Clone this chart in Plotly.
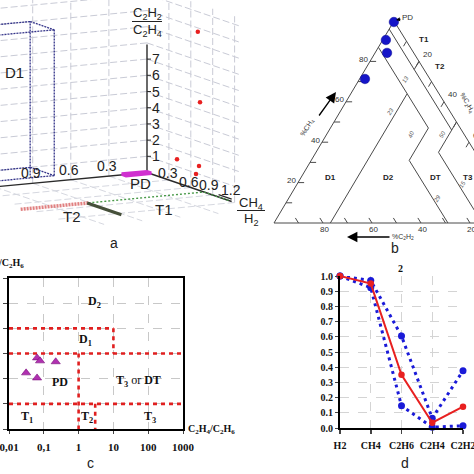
import plotly.graph_objects as go

FIG = 474
SANS = "Liberation Sans, Arial, sans-serif"
SERIF = "Liberation Serif, Times New Roman, serif"

# ======================= DATA =======================
# ---- panel a : 3-D Rogers ratio plot (C2H4/C2H6, CH4/H2, C2H2/C2H4)
a_c2h4_c2h6 = [0.10, 0.10, 0.10, 0.10, 0.10]
a_ch4_h2 = [0.87, 0.90, 0.585, 0.886, 0.845]
a_c2h2_c2h4 = [10.1, 5.8, 1.8, 1.85, 1.28]
a_left_ticks = [0.3, 0.6, 0.9]
a_right_ticks = [0.3, 0.6, 0.9, 1.2]
a_z_ticks = [1, 2, 3, 4, 5, 6, 7]
a_grid_vals = [0.3, 0.6, 0.9, 1.2]
a_grid_z = [1, 2, 3, 4, 5, 6, 7, 8, 9, 10, 11]
a_d1_box = {"a": (0.92, 2.0), "b": (0.0, 0.33), "z": (1.0, 10.0)}
a_pd_box = {"a": (0.0, 0.2), "b": (0.0, 0.06), "z": (0.0, 0.1)}
a_t2_a, a_t2_b = [0.91, 1.45], [0.78, 0.78]
a_t1_a, a_t1_b = [0.91, 0.0, 0.0], [0.78, 0.78, 1.12]
a_t1e_a, a_t1e_b = [0.92, 0.92], [0.78, 1.25]

# ---- panel b : Duval triangle (%CH4, %C2H4, %C2H2)
b_ch4 = [99.5, 90.6, 84.2, 71.3]
b_c2h4 = [0.2, 1.3, 4.9, 2.2]
b_c2h2 = [0.3, 8.1, 10.9, 26.5]
b_zone_lines = [
    [(98, 0, 2), (98, 2, 0)],
    [(96, 0, 4), (46, 50, 4)],
    [(80, 20, 0), (76, 20, 4)],
    [(50, 50, 0), (46, 50, 4)],
    [(46, 50, 4), (35, 50, 15), (0, 85, 15)],
    [(87, 0, 13), (64, 23, 13)],
    [(64, 23, 13), (0, 23, 77)],
    [(64, 23, 13), (47, 40, 13), (31, 40, 29), (0, 71, 29)],
]
b_axis_labels = [20, 40, 60, 80]

# ---- panel c : log-log ratio chart
c_c2h4_c2h6 = [0.064, 0.078, 0.22, 0.031, 0.064]
c_c2h2_c2h6 = [0.67, 0.51, 0.47, 0.17, 0.107]
c_xticks = [0.01, 0.1, 1, 10, 100, 1000]
c_xticktext = ["0,01", "0,1", "1", "10", "100", "1000"]
c_yticks = [0.001, 0.01, 0.1, 1, 10, 100, 1000]
c_bounds = [
    ([0.01, 10], [10, 10]),
    ([10, 10], [10, 1]),
    ([0.01, 1000], [1, 1]),
    ([1, 1], [1, 0.001]),
    ([0.01, 1000], [0.01, 0.01]),
    ([3, 3], [0.01, 0.001]),
]

# ---- panel d : normalised gas profile
d_gases = ["H2", "CH4", "C2H6", "C2H4", "C2H2"]
d_red = [1.0, 0.95, 0.35, 0.035, 0.14]
d_blue_1 = [1.0, 0.97, 0.605, 0.064, 0.377]
d_blue_2 = [1.0, 0.923, 0.146, 0.005, 0.015]

# ======================= HELPERS =======================
def paper(x, y):
    return x / FIG, 1 - y / FIG

annotations = []
shapes = []


def text(x, y, s, size=12, family=SANS, color="#222", angle=0, xanchor="center",
         weight="normal", style="normal"):
    px, py = paper(x, y)
    annotations.append(dict(x=px, y=py, xref="paper", yref="paper", text=s,
                            showarrow=False, xanchor=xanchor, yanchor="middle",
                            textangle=angle,
                            font=dict(size=size, family=family, color=color,
                                      weight=weight, style=style)))


def arrow(xh, yh, xt, yt, width=1.3, size=1.4):
    px, py = paper(xh, yh)
    annotations.append(dict(x=px, y=py, xref="paper", yref="paper", text="",
                            showarrow=True, ax=xt - xh, ay=yt - yh,
                            arrowhead=2, arrowsize=size, arrowwidth=width,
                            arrowcolor="black"))


fig = go.Figure()

# ---- panel a projection (oblique camera)
A_O = (147.0, 172.5)
A_A = (-127.0, 12.0)
A_B = (73.0, 25.0)
A_Z = (0.0, -16.2)


def proj(a, b, z):
    return (A_O[0] + a * A_A[0] + b * A_B[0] + z * A_Z[0],
            A_O[1] + a * A_A[1] + b * A_B[1] + z * A_Z[1])


def seg3(pts_list):
    xs, ys = [], []
    for pts in pts_list:
        for p in pts:
            x, y = proj(*p)
            xs.append(x)
            ys.append(y)
        xs.append(None)
        ys.append(None)
    return xs, ys


def add_a(xs, ys, color, width=1, dash="solid", mode="lines", marker=None):
    fig.add_trace(go.Scatter(x=xs, y=ys, mode=mode, xaxis="x3", yaxis="y3",
                             line=dict(color=color, width=width, dash=dash),
                             marker=marker, hoverinfo="skip", showlegend=False))


# wall and floor grid
grid = []
for z in a_grid_z:
    grid.append([(0, 0, z), (0, 1.5, z)])
    grid.append([(0, 0, z), (1.4, 0, z)])
for v in a_grid_vals:
    grid.append([(0, v, 0), (0, v, 11.5)])
    grid.append([(v, 0, 0), (v, 0, 11.5)])
xs, ys = seg3(grid)
add_a(xs, ys, "#c9cbd6", 1, "7px,3px")
floor = []
for v in a_grid_vals:
    floor.append([(0, v, 0), (1.4, v, 0)])
    floor.append([(v, 0, 0), (v, 1.5, 0)])
xs, ys = seg3(floor)
add_a(xs, ys, "#d6d8e0", 1, "7px,3px")

# D1 box
ba, bb, bz = a_d1_box["a"], a_d1_box["b"], a_d1_box["z"]
edges = [
    [(ba[0], bb[1], bz[0]), (ba[0], bb[1], bz[1])],
    [(ba[0], bb[0], bz[1]), (ba[0], bb[1], bz[1])],
    [(ba[0], bb[0], bz[1]), (ba[1], bb[0], bz[1])],
    [(ba[0], bb[1], bz[1]), (ba[1], bb[1], bz[1])],
    [(ba[0], bb[1], bz[0]), (ba[1], bb[1], bz[0])],
    [(ba[0], bb[0], bz[0] - 0.5), (ba[0], bb[0], bz[1])],
    [(ba[0], bb[0], bz[0]), (ba[0], bb[1], bz[0])],
    [(ba[0], bb[0], bz[0]), (ba[1], bb[0], bz[0])],
]
xs, ys = seg3(edges)
add_a(xs, ys, "#35358a", 1.3, "2px,1px")

# axes
xs, ys = seg3([[(0, 0, 0), (0, 0, 7.9)], [(0, 0, 0), (1.4, 0, 0)],
               [(0, 0, 0), (0, 1.16, 0)]])
add_a(xs, ys, "#2a2a2a", 1.4)
xs, ys = seg3([[(0.0, 0.98, 0.15), (0.0, 1.16, 0.15)]])
add_a(xs, ys, "#2a2a2a", 1.2)
ztick = []
for z in a_z_ticks:
    x0, y0 = proj(0, 0, z)
    ztick.append((x0, y0))
add_a(sum([[p[0], p[0] + 4, None] for p in ztick], []),
      sum([[p[1], p[1], None] for p in ztick], []), "#2a2a2a", 1)

# PD zone (thin box)
pa, pb, pz = a_pd_box["a"], a_pd_box["b"], a_pd_box["z"]
pd_edges = []
for zz in pz:
    pd_edges.append([(pa[0], pb[0], zz), (pa[1], pb[0], zz), (pa[1], pb[1], zz),
                     (pa[0], pb[1], zz), (pa[0], pb[0], zz)])
xs, ys = seg3(pd_edges)
add_a(xs, ys, "#d030d0", 2)

# T zones on floor
xs, ys = seg3([list(zip(a_t2_a, a_t2_b, [0] * len(a_t2_a)))])
add_a(xs, ys, "#e08080", 3.5, "2px,1px")
xs, ys = seg3([list(zip(a_t1_a, a_t1_b, [0] * len(a_t1_a)))])
add_a(xs, ys, "#4a9a4a", 1.4, "2px,2px")
xs, ys = seg3([list(zip(a_t1e_a, a_t1e_b, [0] * len(a_t1e_a)))])
add_a(xs, ys, "#46503a", 3)

# red measurement points
pts = [proj(a, b, z) for a, b, z in zip(a_c2h4_c2h6, a_ch4_h2, a_c2h2_c2h4)]
add_a([p[0] for p in pts], [p[1] for p in pts], "red", mode="markers",
      marker=dict(color="#e82020", size=4.5))

# tick labels for panel a
for v in a_left_ticks:
    x, y = proj(v, 0, 0)
    text(x - 2, y - 10, f"{v:.1f}", 14)
for v, (dx, dy) in zip(a_right_ticks, [(-1, -7), (-2, -6), (-4, -10), (-4, -12)]):
    x, y = proj(0, v, 0)
    text(x + dx, y + dy, f"{v:.1f}", 14)
for z in a_z_ticks:
    x, y = proj(0, 0, z)
    text(x + 3, y, str(z), 14, xanchor="left")
text(147, 14, "C<sub>2</sub>H<sub>2</sub>", 13)
text(147, 30, "C<sub>2</sub>H<sub>4</sub>", 13)
shapes.append(dict(type="line", xref="paper", yref="paper",
                   x0=132 / FIG, x1=162 / FIG, y0=1 - 21.5 / FIG, y1=1 - 21.5 / FIG,
                   line=dict(color="#222", width=1)))
text(251, 203, "CH<sub>4</sub>", 13)
text(251, 219, "H<sub>2</sub>", 13)
shapes.append(dict(type="line", xref="paper", yref="paper",
                   x0=237 / FIG, x1=265 / FIG, y0=1 - 210.5 / FIG, y1=1 - 210.5 / FIG,
                   line=dict(color="#222", width=1)))
text(14, 72, "D1", 15)
text(140, 184, "PD", 15)
text(72, 216, "T2", 15)
text(164, 209, "T1", 15)

# ---- panel b : Duval triangle
TL, TA, TR = (274.0, 223.0), (394.0, 21.0), (519.0, 223.0)


def tern(c, e, d):
    s = c + e + d
    return ((c * TA[0] + e * TR[0] + d * TL[0]) / s,
            (c * TA[1] + e * TR[1] + d * TL[1]) / s)


def add_b(xs, ys, color="#444", width=1, mode="lines", marker=None):
    fig.add_trace(go.Scatter(x=xs, y=ys, mode=mode, xaxis="x4", yaxis="y4",
                             line=dict(color=color, width=width), marker=marker,
                             hoverinfo="skip", showlegend=False, cliponaxis=True))


lines = [[(100, 0, 0), (0, 100, 0), (0, 0, 100), (100, 0, 0)]] + b_zone_lines
xs, ys = [], []
for ln in lines:
    for p in ln:
        x, y = tern(*p)
        xs.append(x)
        ys.append(y)
    xs.append(None)
    ys.append(None)
add_b(xs, ys, "#4a4a4a", 1)

# edge ticks
xs, ys = [], []
for v in range(10, 100, 10):
    for p0, p1 in [((v, 0, 100 - v), (v, 2.5, 97.5 - v)),
                   ((0, 100 - v, v), (2.5, 97.5 - v, v)),
                   ((100 - v, v, 0), (97.5 - v, v, 2.5))]:
        x0, y0 = tern(*p0)
        x1, y1 = tern(*p1)
        xs += [x0, x1, None]
        ys += [y0, y1, None]
add_b(xs, ys, "#4a4a4a", 1)

# sample points
bp = [tern(c, e, d) for c, e, d in zip(b_ch4, b_c2h4, b_c2h2)]
add_b([p[0] for p in bp], [p[1] for p in bp], mode="markers",
      marker=dict(color="#1515c8", size=9.5, line=dict(color="#0a0a90", width=0.5)))

for v in b_axis_labels:
    x, y = tern(v, 0, 100 - v)
    text(x - 7, y - 2, str(v), 8, color="#333")
    x, y = tern(0, 100 - v, v)
    text(x + 1, y + 6, str(v), 8, color="#333")
for v in [20, 40, 60]:
    x, y = tern(100 - v, v, 0)
    text(x + 8, y - 7, str(v), 8, color="#333")

text(407, 18, "PD", 8, color="#333")
arrow(396, 20, 402, 19, 1, 0.8)
text(424, 39, "T1", 8, weight="bold")
text(440, 67, "T2", 8, weight="bold")
text(330, 177, "D1", 8, weight="bold")
text(388, 177, "D2", 8, weight="bold")
text(435, 177, "DT", 8, weight="bold")
text(468, 177, "T3", 8, weight="bold")
for s, x, y, ang in [("23", 390, 112, -60), ("40", 411, 135, -70), ("29", 437, 199, -60),
                     ("15", 462, 185, -60), ("50", 442, 135, -60), ("13", 405, 80, -60)]:
    text(x, y, s, 6, color="#555", angle=ang, style="italic")

text(307, 128, "%CH<sub>4</sub>", 7, color="#333", angle=-59)
arrow(336, 92, 318, 117, 1.3, 1.6)
text(403, 237, "%C<sub>2</sub>H<sub>2</sub>", 7, color="#333")
arrow(347, 237, 391, 237, 1.3, 1.6)
text(467, 103, "%C<sub>2</sub>H<sub>4</sub>", 7, color="#333", angle=60)

# ---- panel c
for bx, by in c_bounds:
    fig.add_trace(go.Scatter(x=bx, y=by, mode="lines", xaxis="x", yaxis="y",
                             line=dict(color="#e02020", width=2.6, dash="4px,4px"),
                             hoverinfo="skip", showlegend=False))
fig.add_trace(go.Scatter(x=c_c2h4_c2h6, y=c_c2h2_c2h6, mode="markers", xaxis="x", yaxis="y",
                         marker=dict(symbol="triangle-up", size=8, color="#b030b0",
                                     line=dict(color="#7a107a", width=0.6)),
                         hoverinfo="skip", showlegend=False))
for s, x, y in [("D<sub>2</sub>", 94, 302), ("D<sub>1</sub>", 85, 340), ("PD", 60, 382),
                ("T<sub>3</sub> <span style='font-weight:normal'>or</span> DT", 138, 381),
                ("T<sub>1</sub>", 27, 417),
                ("T<sub>2</sub>", 87, 417), ("T<sub>3</sub>", 150, 417)]:
    text(x, y, s, 12, SERIF, "#111", weight="bold")
text(211, 429, "C<sub>2</sub>H<sub>4</sub>/C<sub>2</sub>H<sub>6</sub>", 10, SERIF, "#111",
     weight="bold")
text(26, 263, "C<sub>2</sub>H<sub>2</sub>/C<sub>2</sub>H<sub>6</sub>", 10, SERIF, "#111",
     xanchor="right", weight="bold")

# ---- panel d
for ser in (d_blue_1, d_blue_2):
    fig.add_trace(go.Scatter(x=d_gases, y=ser, mode="lines+markers", xaxis="x2", yaxis="y2",
                             line=dict(color="#1a1ad8", width=3, dash="3px,4px"),
                             marker=dict(color="#1a1ad8", size=7), cliponaxis=False,
                             hoverinfo="skip", showlegend=False))
fig.add_trace(go.Scatter(x=d_gases, y=d_red, mode="lines+markers", xaxis="x2", yaxis="y2",
                         line=dict(color="#e82020", width=2),
                         marker=dict(color="#e82020", size=6.5), cliponaxis=False,
                         hoverinfo="skip", showlegend=False))
text(400, 268, "2", 10, SERIF, "#111", weight="bold")

# panel letters
text(114, 243, "a", 14)
text(395, 248, "b", 14)
text(90, 463, "c", 14)
text(405, 463, "d", 14)

hidden = dict(visible=False, showgrid=False, zeroline=False, fixedrange=True,
              automargin=False)
fig.update_layout(
    template="none",
    width=FIG, height=FIG, margin=dict(l=0, r=0, t=0, b=0, pad=0),
    paper_bgcolor="white", plot_bgcolor="white", showlegend=False,
    xaxis=dict(domain=[9 / FIG, 183 / FIG], type="log", range=[-2, 3], anchor="y",
               automargin=False, ticklabeloverflow="allow",
               tickvals=c_xticks, ticktext=c_xticktext, ticks="outside", ticklen=3,
               ticklabelstandoff=4,
               tickfont=dict(family=SERIF, size=11, color="#111", weight="bold"),
               showline=True, mirror=True, linewidth=2, linecolor="black",
               showgrid=True, gridcolor="#c8c8c8", griddash="dash", zeroline=False),
    yaxis=dict(domain=[1 - 429 / FIG, 1 - 278 / FIG], type="log", range=[-3, 3], anchor="x",
               automargin=False,
               tickvals=c_yticks, showticklabels=False, ticks="outside", ticklen=4,
               showline=True, mirror=True, linewidth=2, linecolor="black",
               showgrid=True, gridcolor="#c8c8c8", griddash="dash", zeroline=False),
    xaxis2=dict(domain=[340 / FIG, 463 / FIG], type="category", categoryorder="array",
                categoryarray=d_gases, range=[0, 4], anchor="y2", automargin=False,
                ticklabeloverflow="allow",
                ticks="outside", ticklen=4, tickwidth=1.5, ticklabelstandoff=3,
                tickfont=dict(family=SERIF, size=10, color="#111", weight="bold"),
                showline=True, linewidth=2, linecolor="black",
                showgrid=True, gridcolor="#d4d4d4", griddash="dash", zeroline=False),
    yaxis2=dict(domain=[1 - 428 / FIG, 1 - 276 / FIG], range=[0, 1], dtick=0.1,
                tickformat=".1f", anchor="x2", automargin=False, ticks="outside", ticklen=3,
                tickfont=dict(family=SERIF, size=10, color="#111", weight="bold"),
                showline=True, linewidth=2, linecolor="black",
                showgrid=True, gridcolor="#d4d4d4", griddash="dash", zeroline=False),
    xaxis3=dict(domain=[0, 240 / FIG], range=[0, 240], anchor="y3", **hidden),
    yaxis3=dict(domain=[1 - 236 / FIG, 1], range=[236, 0], anchor="x3", **hidden),
    xaxis4=dict(domain=[240 / FIG, 1], range=[240, 474], anchor="y4", **hidden),
    yaxis4=dict(domain=[1 - 245 / FIG, 1], range=[245, 0], anchor="x4", **hidden),
    annotations=annotations, shapes=shapes,
)

fig.write_html("out.html", config={"displayModeBar": False, "staticPlot": True})
